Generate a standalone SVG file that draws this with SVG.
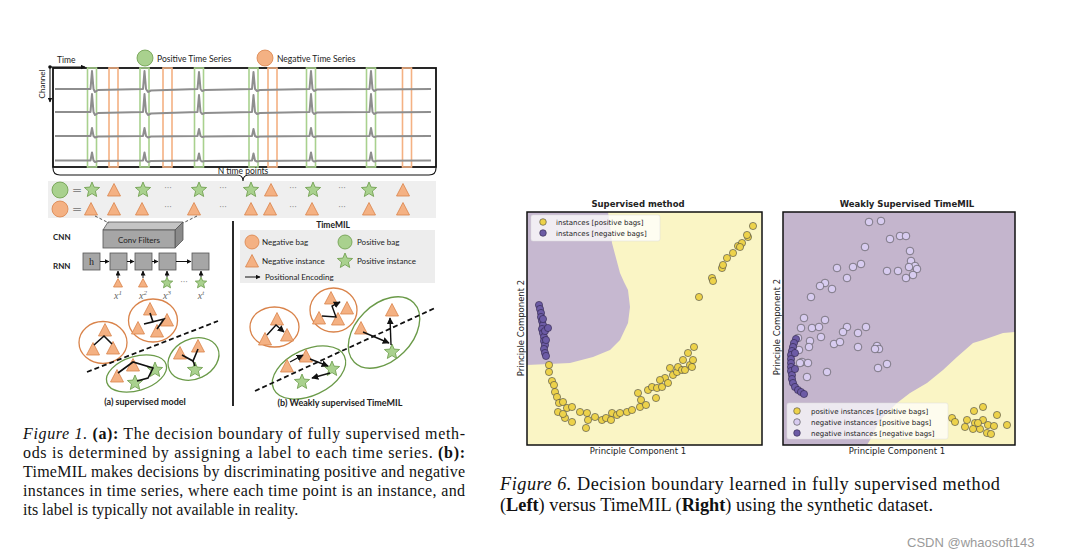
<svg xmlns="http://www.w3.org/2000/svg" xmlns:xlink="http://www.w3.org/1999/xlink" width="1080" height="558" viewBox="0 0 1080 558">
<style>
.lbl{font-family:Lato,"Open Sans",sans-serif;fill:#222}
.b{font-weight:bold}
.cap{font-family:"Liberation Serif",serif;fill:#111}
.plt{font-family:"DejaVu Sans",sans-serif;fill:#222}
.gr{fill:none;stroke:#A9D18E;stroke-width:1.6}
.or{fill:none;stroke:#F4B183;stroke-width:1.6}
.ts{fill:none;stroke:#8E8E8E;stroke-width:2;stroke-linejoin:round}
.tri{fill:#F4B183;stroke:#D9834A;stroke-width:0.8}
.star{fill:#A9D18E;stroke:#6A9A48;stroke-width:0.8}
.cg{fill:#A9D18E;stroke:#6A9A48;stroke-width:0.8}
.co{fill:#F4B183;stroke:#D9834A;stroke-width:0.8}
.eo{fill:none;stroke:#D9834A;stroke-width:1.3}
.eg{fill:none;stroke:#6A9A48;stroke-width:1.3}
.ln{fill:none;stroke:#111;stroke-width:1.6}
.ar{fill:none;stroke:#111;stroke-width:1.4;marker-end:url(#ah)}
.dash{fill:none;stroke:#111;stroke-width:1.8;stroke-dasharray:5 3}
.box{fill:#A6A6A6;stroke:#555;stroke-width:0.8}
.dots{font-family:"DejaVu Sans",sans-serif;font-size:8px;fill:#888;text-anchor:middle}
.py{fill:#EDD24A;stroke:#444;stroke-width:0.6}
.pd{fill:#6C5BA5;stroke:#2e2446;stroke-width:0.6}
.pl{fill:#D8CCF0;stroke:#444;stroke-width:0.6}
</style>
<defs>
<marker id="ah" viewBox="0 0 10 10" refX="9" refY="5" markerWidth="5" markerHeight="5" orient="auto"><path d="M0,0 L10,5 L0,10 z" fill="#111"/></marker>
<polygon id="T" points="0,-6.5 6.5,6 -6.5,6"/>
<polygon id="S" points="0,-8 2.12,-2.91 7.61,-2.47 3.42,1.11 4.70,6.47 0,3.6 -4.70,6.47 -3.42,1.11 -7.61,-2.47 -2.12,-2.91"/>
<polygon id="Ts" points="0,-4.5 4.5,4 -4.5,4"/>
<polygon id="Ss" points="0,-6 1.59,-2.18 5.71,-1.85 2.57,0.83 3.53,4.85 0,2.7 -3.53,4.85 -2.57,0.83 -5.71,-1.85 -1.59,-2.18"/>
<path id="tsBig" d="M55,0 L90.5,0 L92,-18 L93.5,0 L95,3 L98,1 L143,0 L144.5,-18 L146,0 L148,3 L151,1.5 L197.5,0 L199,-17 L200.5,0 L202,2 L205,1 L252,0 L253.5,-17 L255,0 L257,2 L260,1 L309.5,0 L311,-18 L312.5,0 L314,2 L317,0.5 L369.5,0 L371,-18 L372.5,0 L374,2 L377,0.5 L431,0"/>
<path id="tsSmall" d="M55,0 L90.5,0 L92,-8 L93.5,0 L95,1.5 L98,0.5 L143,0 L144.5,-8 L146,0 L148,1.5 L151,0.5 L197.5,0 L199,-7 L200.5,0 L202,1 L205,0.5 L252,0 L253.5,-7 L255,0 L257,1 L260,0.5 L309.5,0 L311,-8 L312.5,0 L314,1 L317,0.3 L369.5,0 L371,-8 L372.5,0 L374,1 L377,0.3 L431,0"/>
</defs>
<rect width="1080" height="558" fill="#fff"/>

<!-- ===== Figure 1 ===== -->
<g id="timeseries">
  <rect x="53" y="68" width="383" height="99" fill="#fff" stroke="#111" stroke-width="1.8"/>
  <g>
    <rect class="gr" x="87.5" y="68" width="9" height="99"/>
    <rect class="gr" x="140" y="68" width="9" height="99"/>
    <rect class="gr" x="194.5" y="68" width="9" height="99"/>
    <rect class="gr" x="249" y="68" width="9" height="99"/>
    <rect class="gr" x="306.5" y="68" width="9" height="99"/>
    <rect class="gr" x="366.5" y="68" width="9" height="99"/>
    <rect class="or" x="109" y="68" width="9" height="99"/>
    <rect class="or" x="163" y="68" width="9" height="99"/>
    <rect class="or" x="268" y="68" width="9" height="99"/>
    <rect class="or" x="402.5" y="68" width="9" height="99"/>
  </g>
  <use href="#tsBig" class="ts" y="89"/>
  <use href="#tsBig" class="ts" y="112"/>
  <use href="#tsSmall" class="ts" y="136"/>
  <use href="#tsSmall" class="ts" y="160.5"/>
  <path d="M53,168 Q53,175 60,175 L237,175 Q243,175 243,181 Q243,175 249,175 L429,175 Q436,175 436,168" fill="none" stroke="#111" stroke-width="1.1"/>
  <text class="lbl" x="243" y="174" font-size="8.5" text-anchor="middle">N time points</text>
  <text class="lbl" x="57" y="63" font-size="8.5">Time</text>
  <circle cx="50" cy="67" r="1.8" fill="#111"/>
  <line x1="50" y1="67" x2="85" y2="67" stroke="#111" stroke-width="1" marker-end="url(#ah)"/>
  <line x1="50" y1="67" x2="50" y2="102" stroke="#111" stroke-width="1" marker-end="url(#ah)"/>
  <text class="lbl" transform="translate(45,84) rotate(-90)" font-size="8" text-anchor="middle">Channel</text>
  <circle class="cg" cx="145" cy="58" r="8"/>
  <text class="lbl" x="157" y="61.5" font-size="8.5">Positive Time Series</text>
  <circle class="co" cx="265" cy="58" r="8"/>
  <text class="lbl" x="277" y="61.5" font-size="8.5">Negative Time Series</text>
</g>

<g id="instances">
  <rect x="48" y="181" width="388" height="37" fill="#EFEFEF"/>
  <circle class="cg" cx="60" cy="190" r="8"/>
  <circle class="co" cx="60" cy="209" r="8"/>
  <text x="77" y="194" font-family="DejaVu Sans,sans-serif" font-size="12" fill="#888" text-anchor="middle">=</text>
  <text x="77" y="213" font-family="DejaVu Sans,sans-serif" font-size="12" fill="#888" text-anchor="middle">=</text>
  <g class="star">
    <use href="#S" x="92" y="190"/><use href="#S" x="143" y="190"/><use href="#S" x="199" y="190"/>
    <use href="#S" x="251" y="190"/><use href="#S" x="313" y="190"/><use href="#S" x="369" y="190"/>
  </g>
  <g class="tri">
    <use href="#T" x="114" y="190"/><use href="#T" x="271" y="190"/><use href="#T" x="403" y="190"/>
    <use href="#T" x="91" y="209"/><use href="#T" x="114" y="209"/><use href="#T" x="142" y="209"/>
    <use href="#T" x="194" y="209"/><use href="#T" x="251" y="209"/><use href="#T" x="270" y="209"/>
    <use href="#T" x="312" y="209"/><use href="#T" x="369" y="209"/><use href="#T" x="403" y="209"/>
  </g>
  <g class="dots">
    <text x="168" y="191">···</text><text x="223" y="191">···</text><text x="293" y="191">···</text><text x="342" y="191">···</text>
    <text x="168" y="210">···</text><text x="223" y="210">···</text><text x="293" y="210">···</text><text x="342" y="210">···</text>
  </g>
</g>

<g id="cnn">
  <text class="lbl b" x="53" y="240" font-size="8">CNN</text>
  <polygon points="103,230 108,222 183,222 175,230" fill="#C4C4C4" stroke="#555" stroke-width="0.8"/>
  <polygon points="175,230 183,222 183,240 175,248" fill="#8A8A8A" stroke="#555" stroke-width="0.8"/>
  <rect class="box" x="103" y="230" width="72" height="18"/>
  <text class="lbl" x="139" y="243" font-size="8" text-anchor="middle">Conv Filters</text>
</g>

<g id="rnn">
  <text class="lbl b" x="53" y="269" font-size="8">RNN</text>
  <rect class="box" x="83" y="253" width="17" height="17"/>
  <text x="91.5" y="265" font-family="Liberation Serif,serif" font-size="10" text-anchor="middle" fill="#222">h</text>
  <rect class="box" x="110" y="253" width="17" height="17"/>
  <rect class="box" x="135" y="253" width="17" height="17"/>
  <rect class="box" x="159" y="253" width="17" height="17"/>
  <rect class="box" x="192" y="253" width="17" height="17"/>
  <text class="dots" x="184" y="285">···</text>
  <g class="tri"><use href="#Ts" x="118" y="283"/><use href="#Ts" x="143" y="283"/></g>
  <g class="star"><use href="#Ss" x="167" y="283"/><use href="#Ss" x="201" y="283"/></g>
  <g font-family="Liberation Serif,serif" font-style="italic" font-size="10" fill="#666" text-anchor="middle">
    <text x="118" y="299">x<tspan font-size="7" dy="-4">1</tspan></text>
    <text x="143" y="299">x<tspan font-size="7" dy="-4">2</tspan></text>
    <text x="167" y="299">x<tspan font-size="7" dy="-4">3</tspan></text>
    <text x="201" y="299">x<tspan font-size="7" dy="-4">t</tspan></text>
  </g>
</g>

<g id="legend-timemil">
  <rect x="240" y="230" width="195" height="53" fill="#EDEDED"/>
  <text class="lbl b" x="333" y="228" font-size="8.5" text-anchor="middle">TimeMIL</text>
  <circle class="co" cx="252" cy="242" r="7"/>
  <text class="lbl" x="262" y="245" font-size="8">Negative bag</text>
  <circle class="cg" cx="345" cy="242" r="7"/>
  <text class="lbl" x="357" y="245" font-size="8">Positive bag</text>
  <use href="#T" class="tri" x="252" y="261"/>
  <text class="lbl" x="262" y="264" font-size="8">Negative instance</text>
  <use href="#S" class="star" x="345" y="261"/>
  <text class="lbl" x="357" y="264" font-size="8">Positive instance</text>
  <text class="lbl" x="265" y="280" font-size="8">Positional Encoding</text>
</g>

<g id="panel-a">
  <ellipse class="eo" cx="103" cy="342.5" rx="24" ry="21"/>
  <ellipse class="eo" cx="153" cy="320.5" rx="24.5" ry="21.5"/>
  <ellipse class="eg" cx="136.5" cy="373.5" rx="31" ry="17" transform="rotate(-17 136.5 373.5)"/>
  <ellipse class="eg" cx="193.5" cy="359" rx="26.5" ry="20" transform="rotate(-25 193.5 359)"/>
  <g class="tri">
    <use href="#T" x="105" y="330"/><use href="#T" x="93" y="349"/><use href="#T" x="113" y="348"/>
    <use href="#T" x="150" y="309"/><use href="#T" x="167" y="320"/><use href="#T" x="138" y="328"/><use href="#T" x="157" y="331"/>
    <use href="#T" x="117" y="376"/><use href="#T" x="133" y="365"/>
    <use href="#T" x="180" y="353"/><use href="#T" x="198" y="346"/>
  </g>
  <g class="star">
    <use href="#S" x="155" y="370"/><use href="#S" x="135" y="383"/><use href="#S" x="195" y="370"/>
  </g>
  <text class="lbl b" x="145" y="405" font-size="9" text-anchor="middle">(a) supervised model</text>
</g>

<g id="panel-b">
  <ellipse class="eo" cx="274.5" cy="327" rx="24.5" ry="20"/>
  <ellipse class="eo" cx="333.5" cy="310" rx="23.5" ry="22"/>
  <ellipse class="eg" cx="309" cy="372.5" rx="39" ry="23" transform="rotate(-25 309 372.5)"/>
  <ellipse class="eg" cx="384" cy="332.5" rx="42" ry="28" transform="rotate(-45 384 332.5)"/>
  <g class="tri">
    <use href="#T" x="277" y="319"/><use href="#T" x="265" y="339"/><use href="#T" x="287" y="335"/>
    <use href="#T" x="331" y="298"/><use href="#T" x="347" y="308"/><use href="#T" x="319" y="318"/><use href="#T" x="338" y="319"/>
    <use href="#T" x="287" y="366"/><use href="#T" x="306" y="356"/>
    <use href="#T" x="361" y="328"/><use href="#T" x="392" y="310"/>
  </g>
  <g class="star">
    <use href="#S" x="332" y="369"/><use href="#S" x="302" y="382"/><use href="#S" x="392" y="352"/>
  </g>
  <text class="lbl b" x="340" y="406" font-size="9" text-anchor="middle">(b) Weakly supervised TimeMIL</text>
</g>

<g id="connectors">
  <line x1="95" y1="216" x2="109" y2="223" stroke="#555" stroke-width="1" stroke-dasharray="3 2"/>
  <line x1="197" y1="216" x2="183" y2="223" stroke="#555" stroke-width="1" stroke-dasharray="3 2"/>
  <g stroke="#111" stroke-width="1" fill="none" marker-end="url(#ah)">
    <line x1="100" y1="261.5" x2="109" y2="261.5"/>
    <line x1="127" y1="261.5" x2="134" y2="261.5"/>
    <line x1="152" y1="261.5" x2="158" y2="261.5"/>
    <line x1="176" y1="261.5" x2="191" y2="261.5"/>
    <line x1="118" y1="278" x2="118" y2="271"/>
    <line x1="143" y1="278" x2="143" y2="271"/>
    <line x1="167" y1="277" x2="167" y2="271"/>
    <line x1="201" y1="277" x2="201" y2="271"/>
    <line x1="245" y1="277" x2="260" y2="277"/>
  </g>
  <line x1="233" y1="221" x2="233" y2="406" stroke="#111" stroke-width="1.8"/>
  <polyline class="ln" points="94,345 104,336 112,344"/>
  <polyline class="ln" points="150,313 153,322 144,324 164,319 157,329"/>
  <polyline class="ln" points="118,373 133,362 153,368 148,378 137,381"/>
  <polyline class="ln" points="182,355 193,361 198,349"/>
  <line class="ln" x1="193" y1="361" x2="195" y2="366"/>
  <line class="dash" x1="87" y1="372" x2="218" y2="321"/>
  <polyline class="ar" points="267,335 276,325 284,332"/>
  <polyline class="ar" points="322,316 336,317 332,306 340,302"/>
  <line class="ar" x1="290" y1="362" x2="303" y2="355"/>
  <line class="ar" x1="310" y1="359" x2="328" y2="366"/>
  <line class="ar" x1="330" y1="373" x2="312" y2="378"/>
  <line class="ar" x1="363" y1="332" x2="389" y2="343"/>
  <line class="ar" x1="391" y1="345" x2="390" y2="318"/>
  <line class="dash" x1="255" y1="391" x2="435" y2="308"/>
</g>

<g id="caption1" class="cap" font-size="16">
  <text x="23" y="439" textLength="442" lengthAdjust="spacing"><tspan font-style="italic">Figure 1.</tspan> <tspan font-weight="bold">(a):</tspan> The decision boundary of fully supervised meth-</text>
  <text x="23" y="458" textLength="442" lengthAdjust="spacing">ods is determined by assigning a label to each time series. <tspan font-weight="bold">(b):</tspan></text>
  <text x="23" y="477" textLength="442" lengthAdjust="spacing">TimeMIL makes decisions by discriminating positive and negative</text>
  <text x="23" y="496" textLength="442" lengthAdjust="spacing">instances in time series, where each time point is an instance, and</text>
  <text x="23" y="515">its label is typically not available in reality.</text>
</g>

<!-- ===== Figure 6 ===== -->
<g id="plot-left">
  <rect x="527" y="212" width="235" height="233" fill="#FAF5C5"/>
  <polygon points="527,212 608,212 610,225 612,243 616,258 620,273 624,282 628,290 630,307 628,323 620,340 610,350 593,357 570,363 527,365" fill="#C6B8D0"/>
  <rect x="527" y="212" width="235" height="233" fill="none" stroke="#111" stroke-width="1.5"/>
  <text class="plt b" x="638" y="207" font-size="8.5" text-anchor="middle">Supervised method</text>
  <text class="plt" x="638" y="454" font-size="8.5" text-anchor="middle">Principle Component 1</text>
  <text class="plt" transform="translate(524,328) rotate(-90)" font-size="8.5" text-anchor="middle">Principle Component 2</text>
  <g>
    <circle class="pd" cx="539" cy="305" r="3.6"/><circle class="pd" cx="540" cy="309" r="3.6"/><circle class="pd" cx="541" cy="313" r="3.6"/>
    <circle class="pd" cx="541" cy="317" r="3.6"/><circle class="pd" cx="542" cy="321" r="3.6"/><circle class="pd" cx="543" cy="325" r="3.6"/>
    <circle class="pd" cx="542" cy="329" r="3.6"/><circle class="pd" cx="543" cy="333" r="3.6"/><circle class="pd" cx="544" cy="337" r="3.6"/>
    <circle class="pd" cx="544" cy="341" r="3.6"/><circle class="pd" cx="545" cy="345" r="3.6"/><circle class="pd" cx="544" cy="349" r="3.6"/>
    <circle class="pd" cx="545" cy="353" r="3.6"/><circle class="pd" cx="546" cy="356" r="3.6"/><circle class="pd" cx="543" cy="319" r="3.6"/>
    <circle class="pd" cx="545" cy="331" r="3.6"/><circle class="pd" cx="546" cy="340" r="3.6"/><circle class="pd" cx="548" cy="328" r="3.6"/>
  </g>
  <g>
    <circle class="py" cx="549" cy="365" r="3.6"/><circle class="py" cx="549" cy="372" r="3.6"/><circle class="py" cx="552" cy="381" r="3.6"/>
    <circle class="py" cx="554" cy="385" r="3.6"/><circle class="py" cx="555" cy="392" r="3.6"/><circle class="py" cx="557" cy="397" r="3.6"/>
    <circle class="py" cx="559" cy="403" r="3.6"/><circle class="py" cx="563" cy="402" r="3.6"/><circle class="py" cx="567" cy="408" r="3.6"/>
    <circle class="py" cx="572" cy="407" r="3.6"/><circle class="py" cx="558" cy="412" r="3.6"/><circle class="py" cx="565" cy="418" r="3.6"/>
    <circle class="py" cx="572" cy="422" r="3.6"/><circle class="py" cx="563" cy="414" r="3.6"/><circle class="py" cx="580" cy="412" r="3.6"/>
    <circle class="py" cx="587" cy="413" r="3.6"/><circle class="py" cx="588" cy="420" r="3.6"/><circle class="py" cx="586" cy="428" r="3.6"/>
    <circle class="py" cx="595" cy="417" r="3.6"/><circle class="py" cx="602" cy="420" r="3.6"/><circle class="py" cx="606" cy="418" r="3.6"/>
    <circle class="py" cx="612" cy="413" r="3.6"/><circle class="py" cx="611" cy="420" r="3.6"/><circle class="py" cx="617" cy="415" r="3.6"/>
    <circle class="py" cx="620" cy="413" r="3.6"/><circle class="py" cx="627" cy="412" r="3.6"/><circle class="py" cx="632" cy="410" r="3.6"/>
    <circle class="py" cx="638" cy="393" r="3.6"/><circle class="py" cx="641" cy="400" r="3.6"/><circle class="py" cx="640" cy="407" r="3.6"/>
    <circle class="py" cx="646" cy="405" r="3.6"/><circle class="py" cx="648" cy="390" r="3.6"/><circle class="py" cx="652" cy="387" r="3.6"/>
    <circle class="py" cx="656" cy="398" r="3.6"/><circle class="py" cx="657" cy="388" r="3.6"/><circle class="py" cx="662" cy="387" r="3.6"/>
    <circle class="py" cx="665" cy="378" r="3.6"/><circle class="py" cx="668" cy="383" r="3.6"/><circle class="py" cx="670" cy="368" r="3.6"/>
    <circle class="py" cx="673" cy="375" r="3.6"/><circle class="py" cx="677" cy="372" r="3.6"/><circle class="py" cx="678" cy="367" r="3.6"/>
    <circle class="py" cx="682" cy="370" r="3.6"/><circle class="py" cx="683" cy="360" r="3.6"/><circle class="py" cx="685" cy="370" r="3.6"/>
    <circle class="py" cx="688" cy="353" r="3.6"/><circle class="py" cx="690" cy="365" r="3.6"/><circle class="py" cx="693" cy="360" r="3.6"/>
    <circle class="py" cx="694" cy="347" r="3.6"/><circle class="py" cx="692" cy="367" r="3.6"/><circle class="py" cx="660" cy="380" r="3.6"/>
    <circle class="py" cx="699" cy="297" r="3.6"/><circle class="py" cx="712" cy="278" r="3.6"/><circle class="py" cx="713" cy="281" r="3.6"/>
    <circle class="py" cx="722" cy="268" r="3.6"/><circle class="py" cx="723" cy="265" r="3.6"/><circle class="py" cx="727" cy="258" r="3.6"/>
    <circle class="py" cx="733" cy="253" r="3.6"/><circle class="py" cx="738" cy="246" r="3.6"/><circle class="py" cx="742" cy="243" r="3.6"/>
    <circle class="py" cx="740" cy="247" r="3.6"/><circle class="py" cx="748" cy="237" r="3.6"/><circle class="py" cx="747" cy="235" r="3.6"/>
    <circle class="py" cx="753" cy="226" r="3.6"/>
  </g>
  <rect x="531" y="215" width="129" height="26" rx="2" fill="#fff" fill-opacity="0.75" stroke="#ddd" stroke-width="0.5"/>
  <circle class="py" cx="543" cy="222" r="3.3"/>
  <circle class="pd" cx="543" cy="233" r="3.3"/>
  <text class="plt" x="556" y="225" font-size="7">instances [positive bags]</text>
  <text class="plt" x="556" y="236" font-size="7">instances [negative bags]</text>
</g>

<g id="plot-right">
  <rect x="783" y="212" width="232" height="233" fill="#C4B5CD"/>
  <polygon points="1015,332 1003,333 983,340 973,343 957,357 943,370 927,383 910,393 897,403 880,420 870,440 867,445 1015,445" fill="#FAF5C5"/>
  <rect x="783" y="212" width="232" height="233" fill="none" stroke="#111" stroke-width="1.5"/>
  <text class="plt b" x="907" y="207" font-size="8.5" text-anchor="middle">Weakly Supervised TimeMIL</text>
  <text class="plt" x="897" y="454" font-size="8.5" text-anchor="middle">Principle Component 1</text>
  <text class="plt" transform="translate(780,327) rotate(-90)" font-size="8.5" text-anchor="middle">Principle Component 2</text>
  <g>
    <circle class="pl" cx="869" cy="222" r="3.8"/><circle class="pl" cx="881" cy="221" r="3.8"/><circle class="pl" cx="900" cy="236" r="3.8"/>
    <circle class="pl" cx="906" cy="236" r="3.8"/><circle class="pl" cx="890" cy="239" r="3.8"/><circle class="pl" cx="865" cy="247" r="3.8"/>
    <circle class="pl" cx="910" cy="251" r="3.8"/><circle class="pl" cx="911" cy="261" r="3.8"/><circle class="pl" cx="915" cy="266" r="3.8"/>
    <circle class="pl" cx="917" cy="269" r="3.8"/><circle class="pl" cx="909" cy="267" r="3.8"/><circle class="pl" cx="913" cy="275" r="3.8"/>
    <circle class="pl" cx="906" cy="278" r="3.8"/><circle class="pl" cx="898" cy="271" r="3.8"/><circle class="pl" cx="887" cy="271" r="3.8"/>
    <circle class="pl" cx="861" cy="264" r="3.8"/><circle class="pl" cx="853" cy="267" r="3.8"/><circle class="pl" cx="837" cy="268" r="3.8"/>
    <circle class="pl" cx="847" cy="278" r="3.8"/><circle class="pl" cx="825" cy="283" r="3.8"/><circle class="pl" cx="820" cy="286" r="3.8"/>
    <circle class="pl" cx="832" cy="289" r="3.8"/><circle class="pl" cx="811" cy="297" r="3.8"/><circle class="pl" cx="804" cy="318" r="3.8"/>
    <circle class="pl" cx="825" cy="320" r="3.8"/><circle class="pl" cx="801" cy="328" r="3.8"/><circle class="pl" cx="812" cy="328" r="3.8"/>
    <circle class="pl" cx="819" cy="327" r="3.8"/><circle class="pl" cx="847" cy="327" r="3.8"/><circle class="pl" cx="866" cy="327" r="3.8"/>
    <circle class="pl" cx="843" cy="332" r="3.8"/><circle class="pl" cx="858" cy="333" r="3.8"/><circle class="pl" cx="821" cy="337" r="3.8"/>
    <circle class="pl" cx="810" cy="341" r="3.8"/><circle class="pl" cx="809" cy="347" r="3.8"/><circle class="pl" cx="834" cy="344" r="3.8"/>
    <circle class="pl" cx="840" cy="342" r="3.8"/><circle class="pl" cx="858" cy="347" r="3.8"/><circle class="pl" cx="877" cy="346" r="3.8"/>
    <circle class="pl" cx="879" cy="349" r="3.8"/><circle class="pl" cx="875" cy="349" r="3.8"/><circle class="pl" cx="887" cy="364" r="3.8"/>
    <circle class="pl" cx="878" cy="368" r="3.8"/><circle class="pl" cx="827" cy="372" r="3.8"/><circle class="pl" cx="807" cy="377" r="3.8"/>
    <circle class="pl" cx="799" cy="350" r="3.8"/><circle class="pl" cx="802" cy="362" r="3.8"/><circle class="pl" cx="808" cy="363" r="3.8"/>
    <circle class="pl" cx="800" cy="363" r="3.8"/><circle class="pl" cx="798" cy="338" r="3.8"/>
  </g>
  <g>
    <circle class="pd" cx="796" cy="339" r="3.6"/><circle class="pd" cx="794" cy="343" r="3.6"/><circle class="pd" cx="793" cy="347" r="3.6"/>
    <circle class="pd" cx="792" cy="351" r="3.6"/><circle class="pd" cx="791" cy="355" r="3.6"/><circle class="pd" cx="791" cy="359" r="3.6"/>
    <circle class="pd" cx="791" cy="363" r="3.6"/><circle class="pd" cx="791" cy="367" r="3.6"/><circle class="pd" cx="791" cy="371" r="3.6"/>
    <circle class="pd" cx="792" cy="375" r="3.6"/><circle class="pd" cx="792" cy="379" r="3.6"/><circle class="pd" cx="793" cy="383" r="3.6"/>
    <circle class="pd" cx="795" cy="387" r="3.6"/><circle class="pd" cx="798" cy="390" r="3.6"/><circle class="pd" cx="801" cy="392" r="3.6"/>
    <circle class="pd" cx="804" cy="394" r="3.6"/><circle class="pd" cx="795" cy="353" r="3.6"/><circle class="pd" cx="795" cy="369" r="3.6"/>
  </g>
  <g>
    <circle class="py" cx="952" cy="418" r="3.6"/><circle class="py" cx="955" cy="422" r="3.6"/><circle class="py" cx="967" cy="420" r="3.6"/>
    <circle class="py" cx="974" cy="411" r="3.6"/><circle class="py" cx="983" cy="407" r="3.6"/><circle class="py" cx="975" cy="423" r="3.6"/>
    <circle class="py" cx="983" cy="420" r="3.6"/><circle class="py" cx="997" cy="415" r="3.6"/><circle class="py" cx="965" cy="427" r="3.6"/>
    <circle class="py" cx="973" cy="429" r="3.6"/><circle class="py" cx="980" cy="429" r="3.6"/><circle class="py" cx="988" cy="425" r="3.6"/>
    <circle class="py" cx="994" cy="426" r="3.6"/><circle class="py" cx="1007" cy="425" r="3.6"/><circle class="py" cx="987" cy="433" r="3.6"/>
    <circle class="py" cx="991" cy="434" r="3.6"/><circle class="py" cx="978" cy="423" r="3.6"/>
  </g>
  <rect x="787" y="403" width="161" height="36" rx="2" fill="#fff" fill-opacity="0.7" stroke="#ddd" stroke-width="0.5"/>
  <circle class="py" cx="797" cy="411" r="3.3"/>
  <circle class="pl" cx="797" cy="422" r="3.3"/>
  <circle class="pd" cx="797" cy="433" r="3.3"/>
  <text class="plt" x="811" y="414" font-size="7">positive instances [positive bags]</text>
  <text class="plt" x="811" y="425" font-size="7">negative instances [positive bags]</text>
  <text class="plt" x="811" y="436" font-size="7">negative instances [negative bags]</text>
</g>

<g id="caption6" class="cap" font-size="18.3">
  <text x="500" y="490" textLength="500" lengthAdjust="spacing"><tspan font-style="italic">Figure 6.</tspan> Decision boundary learned in fully supervised method</text>
  <text x="500" y="511">(<tspan font-weight="bold">Left</tspan>) versus TimeMIL (<tspan font-weight="bold">Right</tspan>) using the synthetic dataset.</text>
</g>

<text x="907" y="547" font-family="Liberation Sans,sans-serif" font-size="13" fill="#9a9a9a">CSDN @whaosoft143</text>
</svg>
